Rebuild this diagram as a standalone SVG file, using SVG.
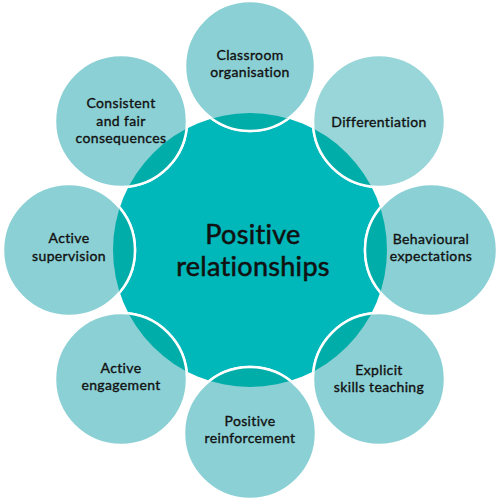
<svg xmlns="http://www.w3.org/2000/svg" width="500" height="501" viewBox="0 0 500 501">
<style>
.outer{fill:#8bd0d4;stroke:#ffffff;stroke-width:2.5}
.light{fill:#99d6d9}
.ov{fill:#00ada8;stroke:#ffffff;stroke-width:2.5}
.lbl{font-family:Lato,"Liberation Sans",sans-serif;font-size:14px;letter-spacing:0.35px;fill:#111111;stroke:#111111;stroke-width:0.35;text-anchor:middle}
.big{font-family:Lato,"Liberation Sans",sans-serif;font-size:27px;letter-spacing:0.3px;fill:#111111;stroke:#111111;stroke-width:0.55;text-anchor:middle}
</style>
<defs>
<clipPath id="bigclip"><circle cx="250" cy="250" r="137"/></clipPath>
</defs>
<rect width="500" height="501" fill="#ffffff"/>
<g id="center">
<circle cx="250" cy="250" r="137" fill="#00b7ba"/>
</g>
<g id="classroom">
<circle class="outer" cx="250" cy="66" r="65"/>
<circle class="ov" cx="250" cy="66" r="65" clip-path="url(#bigclip)"/>
<text class="lbl" x="250" y="60">Classroom</text>
<text class="lbl" x="250" y="77">organisation</text>
</g>
<g id="differentiation">
<circle class="outer light" cx="379" cy="121" r="66"/>
<circle class="ov" cx="379" cy="121" r="66" clip-path="url(#bigclip)"/>
<text class="lbl" x="379" y="127">Differentiation</text>
</g>
<g id="behavioural">
<circle class="outer" cx="431" cy="250" r="66"/>
<circle class="ov" cx="431" cy="250" r="66" clip-path="url(#bigclip)"/>
<text class="lbl" x="431" y="244">Behavioural</text>
<text class="lbl" x="431" y="261">expectations</text>
</g>
<g id="explicit">
<circle class="outer" cx="379" cy="379" r="66"/>
<circle class="ov" cx="379" cy="379" r="66" clip-path="url(#bigclip)"/>
<text class="lbl" x="379" y="375">Explicit</text>
<text class="lbl" x="379" y="392">skills teaching</text>
</g>
<g id="reinforcement">
<circle class="outer" cx="250" cy="433" r="66"/>
<circle class="ov" cx="250" cy="433" r="66" clip-path="url(#bigclip)"/>
<text class="lbl" x="250" y="426">Positive</text>
<text class="lbl" x="250" y="443">reinforcement</text>
</g>
<g id="engagement">
<circle class="outer" cx="121" cy="379" r="66"/>
<circle class="ov" cx="121" cy="379" r="66" clip-path="url(#bigclip)"/>
<text class="lbl" x="121" y="373">Active</text>
<text class="lbl" x="121" y="390">engagement</text>
</g>
<g id="supervision">
<circle class="outer" cx="69" cy="250" r="66"/>
<circle class="ov" cx="69" cy="250" r="66" clip-path="url(#bigclip)"/>
<text class="lbl" x="69" y="243">Active</text>
<text class="lbl" x="69" y="261">supervision</text>
</g>
<g id="consistent">
<circle class="outer" cx="121" cy="121" r="66"/>
<circle class="ov" cx="121" cy="121" r="66" clip-path="url(#bigclip)"/>
<text class="lbl" x="121" y="108">Consistent</text>
<text class="lbl" x="121" y="125.5">and fair</text>
<text class="lbl" x="121" y="143">consequences</text>
</g>
<g id="center-label">
<text class="big" x="253" y="244">Positive</text>
<text class="big" x="253" y="276">relationships</text>
</g>
<g id="connectors"/>
</svg>
